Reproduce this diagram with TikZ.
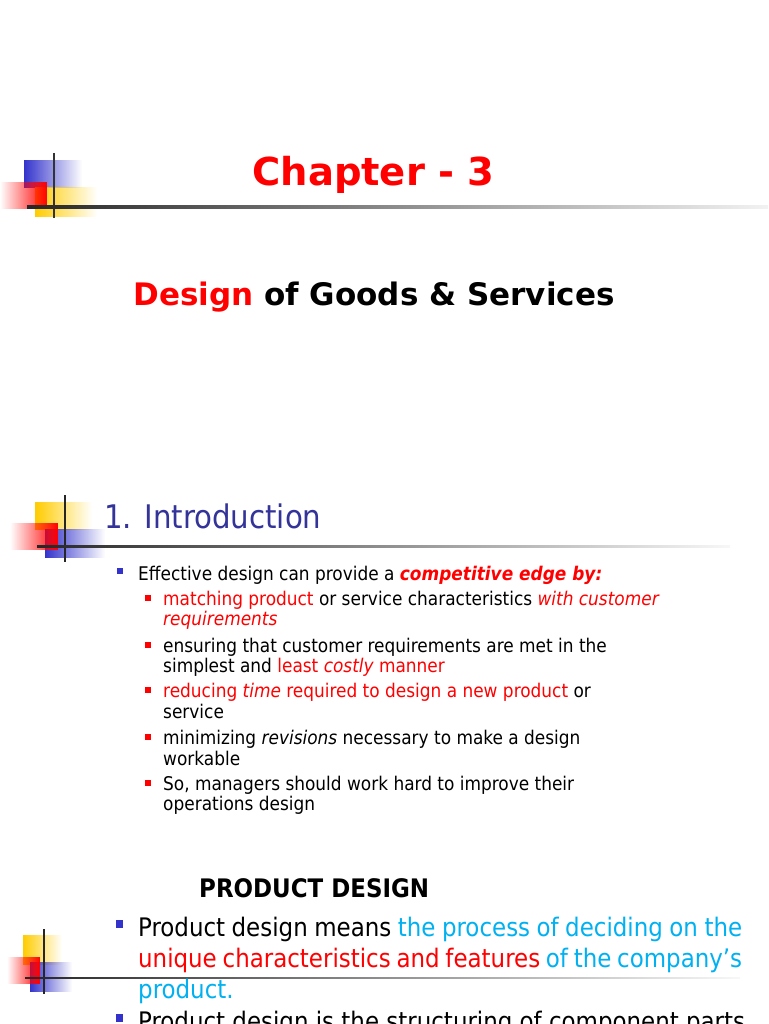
\documentclass[tikz,border=0pt]{standalone}
\usepackage{fontspec}
\setmainfont{DejaVu Sans}
\newfontfamily\cond{DejaVu Sans Condensed}
\usetikzlibrary{fadings}
\definecolor{cred}{RGB}{255,0,0}
\definecolor{cblue}{RGB}{51,51,204}
\definecolor{cyel}{RGB}{255,204,0}
\definecolor{ttl}{RGB}{51,51,153}
\definecolor{cyan2}{RGB}{0,176,240}
\begin{document}
\begin{tikzpicture}[x=1pt,y=-1pt,
  txt/.style={anchor=base west,inner sep=0pt,font=\cond\fontsize{18.85}{22}\selectfont},
  big/.style={anchor=base west,inner sep=0pt,font=\cond\fontsize{25.5}{31}\selectfont},
  sq/.style={fill=cblue},
  rsq/.style={fill=cred}]
\useasboundingbox (0,0) rectangle (768,1024);
\clip (0,0) rectangle (768,1024);
% logo 1
\fill[cblue,path fading=east] (24,160) rectangle (82,188);
\fill[cyel,path fading=east] (35,187) rectangle (97,217);
\fill[cred,path fading=west] (0,182) rectangle (47,209);
\draw[line width=2.5pt,black!80] (54,153) -- (54,218);
\shade[left color=black!85,right color=black!5] (27,205.5) rectangle (768,208.5);
% logo 2
\fill[cyel,path fading=east] (35,502) rectangle (92,530);
\fill[cblue,path fading=east] (45,529) rectangle (105,558);
\fill[cred,path fading=west] (10,523) rectangle (58,550);
\draw[line width=1.6pt,black!85] (65,495) -- (65,562);
\shade[left color=black!85,right color=black!3] (37,545.5) rectangle (730,547);
% logo 3
\fill[cyel,path fading=east] (23,935) rectangle (62,965);
\fill[cblue,path fading=east] (30,962) rectangle (72,992);
\fill[cred,path fading=west] (7,957) rectangle (40,984);
\draw[line width=1.3pt,black!85] (44,929) -- (44,994);
\shade[left color=black!85,right color=black!3] (25,977.3) rectangle (740,978.7);
% titles
\node[anchor=base,inner sep=0pt,font=\bfseries\fontsize{38.5}{44}\selectfont,text=cred] (t1) at (373.5,186) {Chapter - 3};
\node[anchor=base,inner sep=0pt,font=\bfseries\fontsize{31}{36}\selectfont] (t2) at (374,305) {\textcolor{cred}{Design} of Goods \& Services};
\node[anchor=base west,inner sep=0pt,font=\cond\fontsize{32.5}{38}\selectfont,text=ttl] (t3) at (104,528) {1. Introduction};
% bullets
\fill[sq] (117,568) rectangle (123,574);
\node[txt] (b1) at (138,580) {Effective design can provide a \textcolor{cred}{\bfseries\itshape competitive edge by:}};
\foreach \y in {595,642,687,734,780} \fill[rsq] (145,\y) rectangle (151,\y+6);
\node[txt] (s1) at (163,605) {\textcolor{cred}{matching product} or service characteristics \textcolor{cred}{\itshape with customer}};
\node[txt] (s1b) at (163,625) {\textcolor{cred}{\itshape requirements}};
\node[txt] (s2) at (163,652) {ensuring that customer requirements are met in the};
\node[txt] (s2b) at (163,672) {simplest and \textcolor{cred}{least \itshape costly\upshape{} manner}};
\node[txt] (s3) at (163,697) {\textcolor{cred}{reducing \itshape time\upshape{} required to design a new product} or};
\node[txt] (s3b) at (163,718) {service};
\node[txt] (s4) at (163,744) {minimizing \textit{revisions} necessary to make a design};
\node[txt] (s4b) at (163,765) {workable};
\node[txt] (s5) at (163,790) {So, managers should work hard to improve their};
\node[txt] (s5b) at (163,810) {operations design};
% product design
\node[anchor=base west,inner sep=0pt,font=\cond\bfseries\fontsize{25.5}{30}\selectfont] (pd) at (199,897) {PRODUCT DESIGN};
\fill[sq] (116,920) rectangle (123,928);
\node[big,text width=604pt,align=justify] (p1) at (138,936) {\baselineskip=31.5pt Product design means \textcolor{cyan2}{the process of deciding on the} \textcolor{cred}{unique characteristics and features} \textcolor{cyan2}{of the company’s product.}};
\fill[sq] (116,1014) rectangle (123,1022);
\node[big] (p2) at (138,1030) { Product design is the structuring of component parts};
\end{tikzpicture}
\end{document}
